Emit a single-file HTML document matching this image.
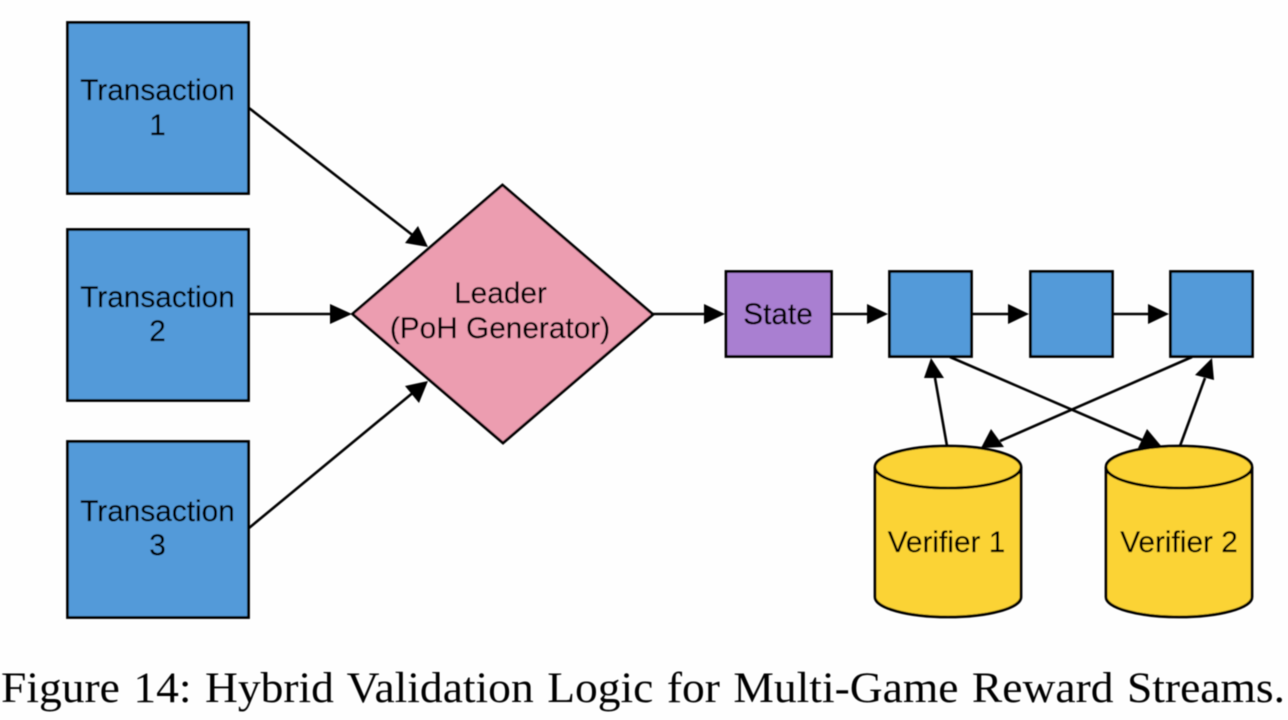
<!DOCTYPE html>
<html><head><meta charset="utf-8"><style>
html,body{margin:0;padding:0;background:#fff;width:1288px;height:720px;overflow:hidden}
svg{display:block}
.s{font-family:"Liberation Sans",sans-serif;font-size:29.800px;fill:#000;stroke:#000;stroke-width:0.200px;text-anchor:middle}
.c{font-family:"Liberation Serif",serif;font-size:43px;fill:#000;word-spacing:2px}
</style></head><body>
<svg width="1288" height="720" viewBox="0 0 1288 720" xmlns="http://www.w3.org/2000/svg">
<defs><filter id="b" x="-2%" y="-2%" width="104%" height="104%"><feGaussianBlur stdDeviation="0.45"/></filter></defs>
<rect width="1288" height="720" fill="#fefefe"/>
<g filter="url(#b)">
<g stroke="#000" stroke-width="2.800" fill="#539ad9">
<rect x="67.500" y="22.500" width="181" height="171"/>
<rect x="67.500" y="229.500" width="181" height="171"/>
<rect x="67.500" y="441.500" width="181" height="176"/>
<rect x="889.500" y="271.500" width="82" height="85"/>
<rect x="1030.500" y="271.500" width="82" height="85"/>
<rect x="1170.500" y="271.500" width="82" height="85"/>
</g>
<polygon points="502.500,185 653,314.500 503,443 352.500,314" fill="#ec9db0" stroke="#000" stroke-width="2.800"/>
<rect x="726" y="271.500" width="105.500" height="85" fill="#a97fd1" stroke="#000" stroke-width="2.800"/>
<g stroke="#000" stroke-width="2.800" fill="#fbd335">
<path d="M875 467V597A73 20 0 0 0 1021 597V467"/>
<ellipse cx="948" cy="467" rx="73" ry="21"/>
<path d="M1106 467V597A73 20 0 0 0 1252 597V467"/>
<ellipse cx="1179" cy="467" rx="73" ry="21"/>
</g>
<g stroke="#000" stroke-width="2.600" fill="none">
<path d="M249 108L415 237"/>
<path d="M249 314H332"/>
<path d="M249 528L415 391"/>
<path d="M653 314H705"/>
<path d="M832 314H868"/>
<path d="M972 314H1009"/>
<path d="M1113 314H1149"/>
<path d="M947 446L935 378"/>
<path d="M1180 446L1205 378"/>
<path d="M950 357L1142 440"/>
<path d="M1192 357L1000 441"/>
</g>
<g fill="#000">
<polygon points="428,247 405,243 418,226"/>
<polygon points="352,314 330,304 330,324"/>
<polygon points="428,381 419,403 405,386"/>
<polygon points="725,314 704,304 704,324"/>
<polygon points="888,314 867,304 867,324"/>
<polygon points="1029,314 1008,304 1008,324"/>
<polygon points="1169,314 1148,304 1148,324"/>
<polygon points="931,358 924,378 944,378"/>
<polygon points="1212,358 1195,375 1214,380"/>
<polygon points="1162,447 1138,448 1147,429"/>
<polygon points="981,448 991,429 1004,447"/>
</g>
<text class="s" x="157.500" y="100">Transaction</text>
<text class="s" x="157.500" y="135">1</text>
<text class="s" x="157.500" y="307">Transaction</text>
<text class="s" x="157.500" y="341">2</text>
<text class="s" x="157.500" y="521">Transaction</text>
<text class="s" x="157.500" y="555">3</text>
<text class="s" x="500.500" y="303">Leader</text>
<text class="s" x="500" y="338">(PoH Generator)</text>
<text class="s" x="778" y="324">State</text>
<text class="s" x="946.500" y="552">Verifier 1</text>
<text class="s" x="1179" y="552">Verifier 2</text>
<text class="c" x="1" y="702" textLength="1284" lengthAdjust="spacingAndGlyphs">Figure 14: Hybrid Validation Logic for Multi-Game Reward Streams.</text>
</g>
</svg>
</body></html>
